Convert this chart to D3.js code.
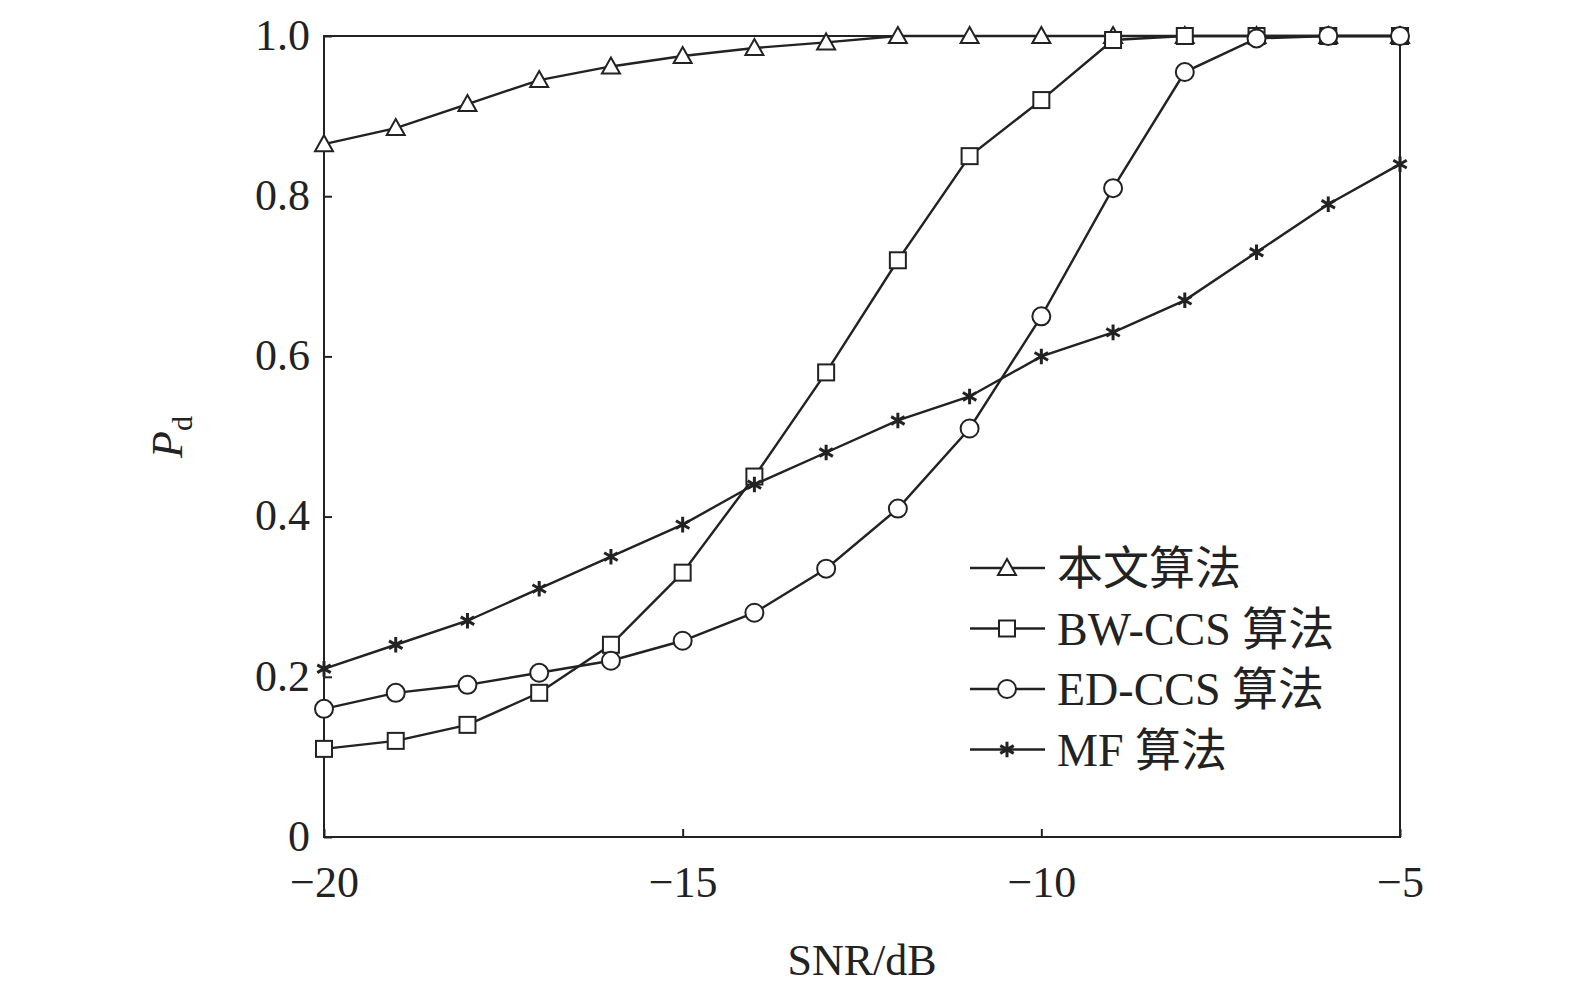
<!DOCTYPE html><html><head><meta charset="utf-8"><script src="https://cdn.jsdelivr.net/npm/d3@7"></script>
<style>body{margin:0;background:#fff}text{font-family:"Liberation Serif","Noto Sans CJK SC",serif;fill:#222}</style></head><body><svg width="1575" height="1000"></svg><script>
const snr=d3.range(-20,-4,1);
const oursVals=[0.865,0.885,0.915,0.945,0.962,0.975,0.985,0.992,1,1,1,1,1,1,1,1];
const bwVals=[0.11,0.12,0.14,0.18,0.24,0.33,0.45,0.58,0.72,0.85,0.92,0.995,1,1,1,1];
const edVals=[0.16,0.18,0.19,0.205,0.22,0.245,0.28,0.335,0.41,0.51,0.65,0.81,0.955,0.997,1,1];
const mfVals=[0.21,0.24,0.27,0.31,0.35,0.39,0.44,0.48,0.52,0.55,0.60,0.63,0.67,0.73,0.79,0.84];
const seriesNames=["本文算法","BW-CCS 算法","ED-CCS 算法","MF 算法"];
const markers=["tri","sq","circ","star"];
const xTicks=[-20,-15,-10,-5],yTicks=[0,0.2,0.4,0.6,0.8,1.0];
const svg=d3.select("svg"),c="#222";
const x=d3.scaleLinear().domain([-20,-5]).range([324,1400]);
const y=d3.scaleLinear().domain([0,1]).range([837,36]);
svg.append("rect").attr("x",324).attr("y",36).attr("width",1076).attr("height",801).attr("fill","none").attr("stroke",c).attr("stroke-width",2);
const xa=svg.append("g").attr("transform","translate(0,837)").call(d3.axisBottom(x).tickValues(xTicks).tickSize(-8).tickPadding(18).tickFormat(d=>d<0?"−"+(-d):d));
const ya=svg.append("g").attr("transform","translate(324,0)").call(d3.axisLeft(y).tickValues(yTicks).tickSize(-8).tickPadding(14).tickFormat(d=>d===0?"0":d3.format(".1f")(d)));
[xa,ya].forEach(a=>{a.select(".domain").remove();a.selectAll("line").attr("stroke",c).attr("stroke-width",2);a.selectAll("text").style("font-size","44px").attr("fill",c);});
xa.selectAll("text").attr("dy","0.95em");
ya.selectAll("text").attr("dy","0.3em");
svg.append("text").attr("x",862).attr("y",975).attr("text-anchor","middle").style("font-size","44px").text("SNR/dB");
const yl=svg.append("text").attr("transform","translate(182,437) rotate(-90)").attr("text-anchor","middle").style("font-size","44px");
yl.append("tspan").attr("font-style","italic").text("P");yl.append("tspan").attr("dy",10).style("font-size","30px").text("d");
function mark(g,t,px,py){
 if(t==="tri")g.append("path").attr("d",`M${px},${py-9}L${px+9},${py+7}L${px-9},${py+7}Z`).attr("fill","#fff").attr("stroke",c).attr("stroke-width",2);
 else if(t==="sq")g.append("rect").attr("x",px-8).attr("y",py-8).attr("width",16).attr("height",16).attr("fill","#fff").attr("stroke",c).attr("stroke-width",2);
 else if(t==="circ")g.append("circle").attr("cx",px).attr("cy",py).attr("r",9).attr("fill","#fff").attr("stroke",c).attr("stroke-width",2);
 else g.append("path").attr("d",d3.symbol().type(d3.symbolAsterisk).size(170)()).attr("transform",`translate(${px},${py})`).attr("stroke",c).attr("stroke-width",3);
}
const all=[oursVals,bwVals,edVals,mfVals];
const line=d3.line().x((d,i)=>x(snr[i])).y(d=>y(d));
all.forEach((vals,k)=>{
 const g=svg.append("g");
 g.append("path").attr("d",line(vals)).attr("fill","none").attr("stroke",c).attr("stroke-width",2.4);
 vals.forEach((v,i)=>mark(g,markers[k],x(snr[i]),y(v)));
});
seriesNames.forEach((n,k)=>{
 const yy=568+k*60.5,g=svg.append("g");
 g.append("line").attr("x1",970).attr("x2",1045).attr("y1",yy).attr("y2",yy).attr("stroke",c).attr("stroke-width",2.4);
 mark(g,markers[k],1007,yy);
 g.append("text").attr("x",1057).attr("y",yy+16).style("font-size","46px").text(n);
});
</script></body></html>
